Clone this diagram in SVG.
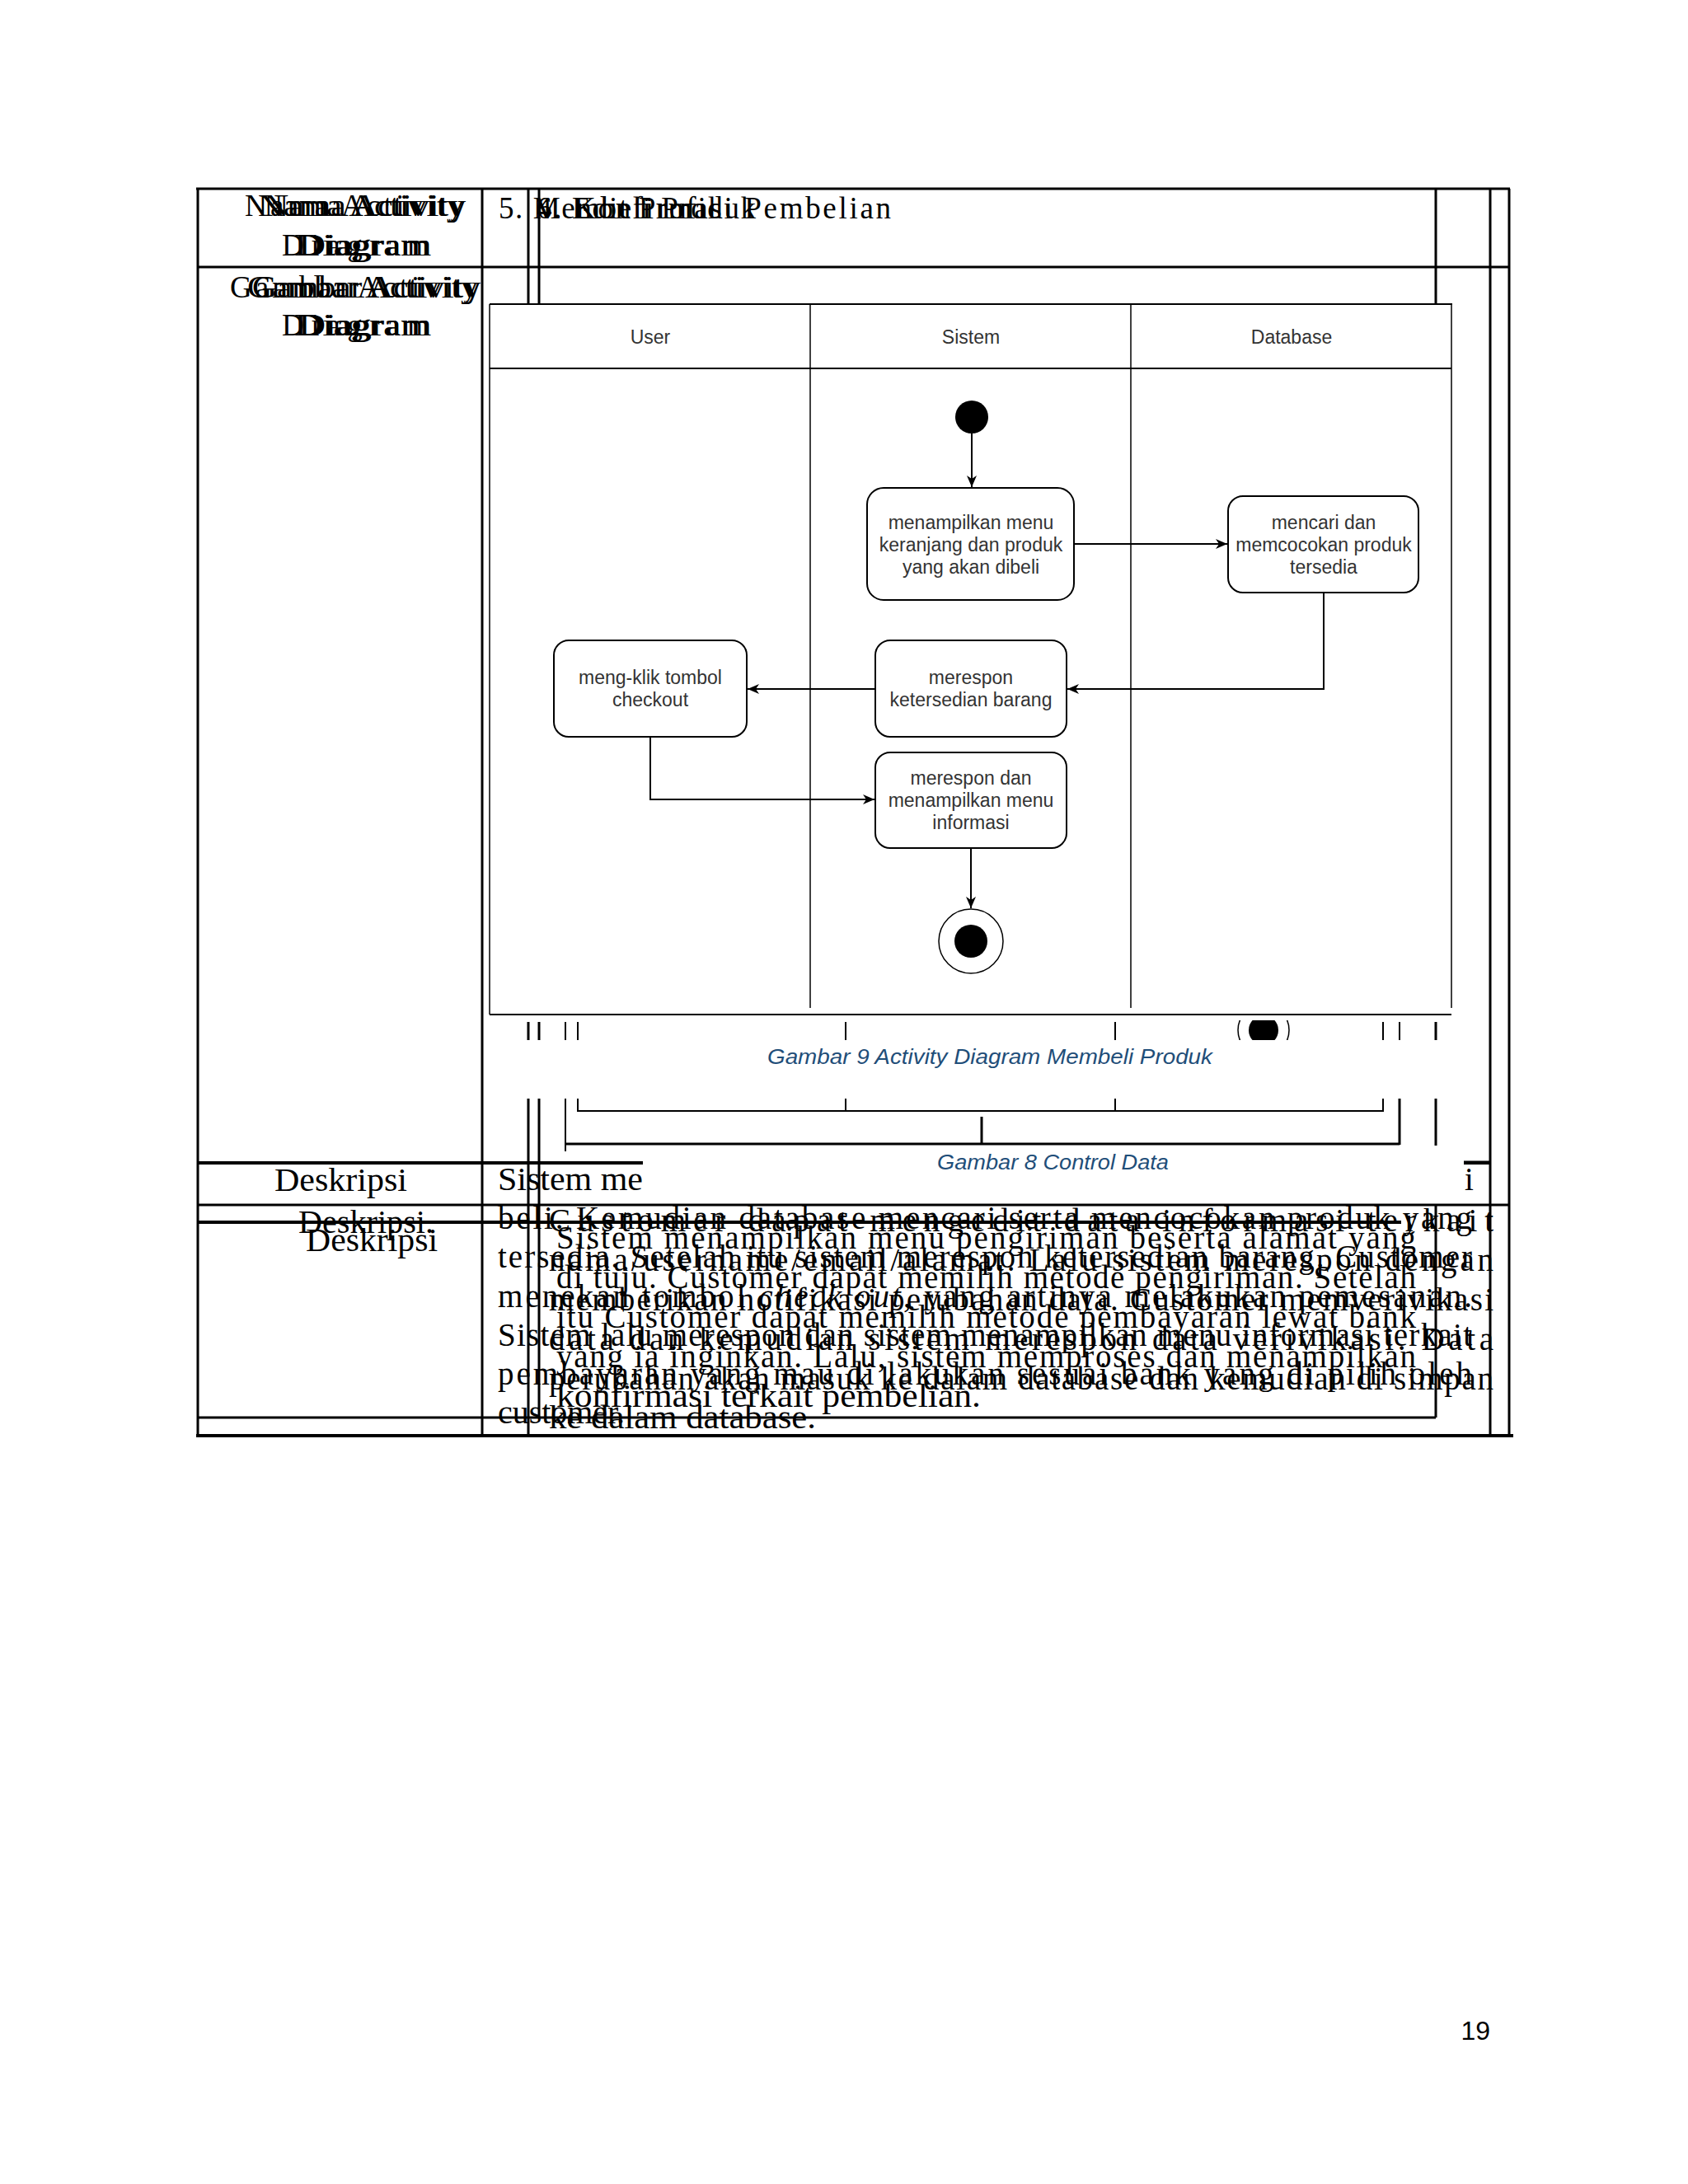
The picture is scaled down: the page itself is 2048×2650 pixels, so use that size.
<svg xmlns="http://www.w3.org/2000/svg" width="2048" height="2650" viewBox="0 0 2048 2650">
<defs>
<style>
.tl{stroke:#000;stroke-width:3;fill:none}
.tn{stroke:#000;stroke-width:2;fill:none}
.tk{stroke:#000;stroke-width:4;fill:none}
.ser{font-family:"Liberation Serif","Times New Roman",serif;fill:#000}
.lbl{font-size:37px}
.body{font-size:39px}
.cap{font-family:"Liberation Sans",Arial,sans-serif;font-style:italic;font-size:26px;fill:#1f4e79}
.dg{font-family:"Liberation Sans",Arial,sans-serif;font-size:23px;fill:#333;text-anchor:middle}
.box{fill:#fff;stroke:#000;stroke-width:2}
.lane{stroke:#000;stroke-width:1.5;fill:none}
.edge{stroke:#000;stroke-width:2;fill:none}
</style>
<marker id="arr" markerWidth="16" markerHeight="14" refX="14" refY="7" orient="auto" markerUnits="userSpaceOnUse">
<path d="M0,1 L14,7 L0,13 L4,7 z" fill="#000"/>
</marker>
<clipPath id="cl"><rect x="1490" y="1238" width="90" height="24"/></clipPath>
</defs>
<rect width="2048" height="2650" fill="#fff"/>

<g id="table">
<line class="tl" x1="238" y1="229" x2="1832" y2="229"/>
<line class="tl" x1="240" y1="229" x2="240" y2="1742"/>
<line class="tl" x1="240" y1="324" x2="1831" y2="324"/>
<line class="tl" x1="585" y1="229" x2="585" y2="1742"/>
<line class="tl" x1="641" y1="229" x2="641" y2="369"/>
<line class="tl" x1="654" y1="229" x2="654" y2="369"/>
<line class="tl" x1="1742" y1="229" x2="1742" y2="369"/>
<line class="tl" x1="1808" y1="229" x2="1808" y2="1742"/>
<line class="tl" x1="1831" y1="229" x2="1831" y2="1742"/>
<line class="tl" x1="641" y1="1240" x2="641" y2="1262"/>
<line class="tl" x1="654" y1="1240" x2="654" y2="1262"/>
<line class="tl" x1="641" y1="1333" x2="641" y2="1742"/>
<line class="tl" x1="654" y1="1333" x2="654" y2="1720"/>
<line class="tl" x1="1742" y1="1240" x2="1742" y2="1262"/>
<line class="tl" x1="1742" y1="1333" x2="1742" y2="1390"/>
<line class="tl" x1="1742" y1="1461" x2="1742" y2="1720"/>
<line class="tk" x1="240" y1="1411" x2="780" y2="1411"/>
<line class="tk" x1="1776" y1="1411" x2="1808" y2="1411"/>
<line class="tl" x1="240" y1="1462" x2="1831" y2="1462"/>
<line class="tk" x1="240" y1="1483" x2="1700" y2="1483"/>
<line class="tl" x1="240" y1="1720" x2="1742" y2="1720"/>
<line class="tk" x1="238" y1="1742" x2="1836" y2="1742"/>
</g>

<g id="residue">
<line class="tn" x1="686" y1="1240" x2="686" y2="1262"/>
<line class="tn" x1="701" y1="1240" x2="701" y2="1262"/>
<line class="tn" x1="1026" y1="1240" x2="1026" y2="1262"/>
<line class="tn" x1="1353" y1="1240" x2="1353" y2="1262"/>
<line class="tn" x1="1678" y1="1240" x2="1678" y2="1262"/>
<line class="tn" x1="1698" y1="1240" x2="1698" y2="1262"/>
<g clip-path="url(#cl)">
<circle cx="1533" cy="1250" r="31" fill="none" stroke="#000" stroke-width="1.5"/>
<circle cx="1533" cy="1250" r="18" fill="#000"/>
</g>
<line class="tn" x1="686" y1="1333" x2="686" y2="1397"/>
<line class="tn" x1="701" y1="1333" x2="701" y2="1349"/>
<line class="tn" x1="701" y1="1348" x2="1678" y2="1348"/>
<line class="tn" x1="1026" y1="1333" x2="1026" y2="1348"/>
<line class="tn" x1="1353" y1="1333" x2="1353" y2="1348"/>
<line class="tn" x1="1678" y1="1333" x2="1678" y2="1349"/>
<line class="tl" x1="1191" y1="1355" x2="1191" y2="1388"/>
<line class="tl" x1="686" y1="1388" x2="1698" y2="1388"/>
<line class="tl" x1="1698" y1="1333" x2="1698" y2="1389"/>
<line class="tl" x1="1776" y1="1410" x2="1808" y2="1410"/>
</g>

<g id="labels" class="ser lbl">
<text x="297" y="262" textLength="268" lengthAdjust="spacing">Nama Activity</text>
<text x="313" y="262" textLength="250" lengthAdjust="spacingAndGlyphs">Nama Activity</text>
<text x="320" y="262" textLength="245" lengthAdjust="spacingAndGlyphs">Nama Activity</text>
<text x="342" y="310" textLength="181" lengthAdjust="spacing">Diagram</text>
<text x="357" y="310" textLength="166" lengthAdjust="spacingAndGlyphs">Diagram</text>
<text x="362" y="310" textLength="160" lengthAdjust="spacingAndGlyphs">Diagram</text>
<text x="279" y="361" textLength="304" lengthAdjust="spacing">Gambar Activity</text>
<text x="300" y="361" textLength="280" lengthAdjust="spacingAndGlyphs">Gambar Activity</text>
<text x="306" y="361" textLength="277" lengthAdjust="spacingAndGlyphs">Gambar Activity</text>
<text x="342" y="407" textLength="181" lengthAdjust="spacing">Diagram</text>
<text x="357" y="407" textLength="166" lengthAdjust="spacingAndGlyphs">Diagram</text>
<text x="362" y="407" textLength="160" lengthAdjust="spacingAndGlyphs">Diagram</text>
<text x="605" y="265" textLength="312" lengthAdjust="spacing">5. Membeli Produk</text>
<text x="651" y="265" textLength="218" lengthAdjust="spacing">4. Edit Profil</text>
<text x="651" y="265" textLength="430" lengthAdjust="spacing">6. Konfirmasi Pembelian</text>
</g>

<g id="activity-diagram">
<g id="frame">
<line class="tn" x1="594" y1="369" x2="1762" y2="369"/>
<line class="lane" x1="594" y1="369" x2="594" y2="1231"/>
<line class="lane" x1="983" y1="369" x2="983" y2="1223"/>
<line class="lane" x1="1372" y1="369" x2="1372" y2="1223"/>
<line class="lane" x1="1761" y1="369" x2="1761" y2="1223"/>
<line class="tn" x1="594" y1="447" x2="1761" y2="447"/>
<line class="tn" x1="594" y1="1231" x2="1761" y2="1231"/>
<text class="dg" x="789" y="417">User</text>
<text class="dg" x="1178" y="417">Sistem</text>
<text class="dg" x="1567" y="417">Database</text>
</g>
<g id="start"><circle cx="1179" cy="506" r="20" fill="#000"/></g>
<g id="n1">
<rect class="box" x="1052" y="592" width="251" height="136" rx="20"/>
<text class="dg" x="1178" y="642">menampilkan menu</text>
<text class="dg" x="1178" y="669">keranjang dan produk</text>
<text class="dg" x="1178" y="696">yang akan dibeli</text>
</g>
<g id="n2">
<rect class="box" x="1490" y="602" width="231" height="117" rx="18"/>
<text class="dg" x="1606" y="642">mencari dan</text>
<text class="dg" x="1606" y="669">memcocokan produk</text>
<text class="dg" x="1606" y="696">tersedia</text>
</g>
<g id="n3">
<rect class="box" x="672" y="777" width="234" height="117" rx="18"/>
<text class="dg" x="789" y="830">meng-klik tombol</text>
<text class="dg" x="789" y="857">checkout</text>
</g>
<g id="n4">
<rect class="box" x="1062" y="777" width="232" height="117" rx="18"/>
<text class="dg" x="1178" y="830">merespon</text>
<text class="dg" x="1178" y="857">ketersedian barang</text>
</g>
<g id="n5">
<rect class="box" x="1062" y="913" width="232" height="116" rx="18"/>
<text class="dg" x="1178" y="952">merespon dan</text>
<text class="dg" x="1178" y="979">menampilkan menu</text>
<text class="dg" x="1178" y="1006">informasi</text>
</g>
<g id="end">
<circle cx="1178" cy="1142" r="39" fill="#fff" stroke="#000" stroke-width="1.5"/>
<circle cx="1178" cy="1142" r="20" fill="#000"/>
</g>
<g id="connectors">
<path class="edge" d="M1179,526 L1179,591" marker-end="url(#arr)"/>
<path class="edge" d="M1303,660 L1489,660" marker-end="url(#arr)"/>
<path class="edge" d="M1606,719 L1606,836 L1295,836" marker-end="url(#arr)"/>
<path class="edge" d="M1062,836 L907,836" marker-end="url(#arr)"/>
<path class="edge" d="M789,894 L789,970 L1061,970" marker-end="url(#arr)"/>
<path class="edge" d="M1178,1029 L1178,1102" marker-end="url(#arr)"/>
</g>
</g>

<g id="captions">
<text class="cap" x="931" y="1291" textLength="540" lengthAdjust="spacingAndGlyphs">Gambar 9 Activity Diagram Membeli Produk</text>
<text class="cap" x="1137" y="1419" textLength="281" lengthAdjust="spacingAndGlyphs">Gambar 8 Control Data</text>
</g>

<g id="deskripsi" class="ser body">
<text x="333" y="1445" textLength="161" lengthAdjust="spacingAndGlyphs">Deskripsi</text>
<text x="362" y="1496" textLength="164" lengthAdjust="spacingAndGlyphs">Deskripsi.</text>
<text x="371" y="1518" textLength="160" lengthAdjust="spacingAndGlyphs">Deskripsi</text>
</g>

<g id="text-a" class="ser body">
<text x="604" y="1444" textLength="176" lengthAdjust="spacingAndGlyphs">Sistem me</text>
<text x="1777" y="1444">i</text>
<text x="604" y="1491" textLength="1182" lengthAdjust="spacing">beli. Kemudian database mencari serta mencocokan produk yang</text>
<text x="604" y="1538" textLength="1182" lengthAdjust="spacing">tersedia. Setelah itu sistem merespon ketersedian barang. Customer</text>
<text x="604" y="1586" textLength="1182" lengthAdjust="spacing">menekan tombol <tspan font-style="italic">check out</tspan>, yang artinya melakukan pemesanan.</text>
<text x="604" y="1633" textLength="1182" lengthAdjust="spacing">Sistem lalu merespon dan sistem menampilkan menu informasi terkait</text>
<text x="604" y="1680" textLength="1182" lengthAdjust="spacing">pembayaran yang mau di lakukan sesuai bank yang di pilih oleh</text>
<text x="604" y="1727" textLength="154" lengthAdjust="spacingAndGlyphs">customer.</text>
</g>

<g id="text-b" class="ser body">
<text x="666" y="1494" textLength="1146" lengthAdjust="spacing">Customer dapat mengedit data informasi terkait</text>
<text x="666" y="1542" textLength="1146" lengthAdjust="spacing">nama/username/email/alamat. Lalu sistem merespon dengan</text>
<text x="666" y="1590" textLength="1146" lengthAdjust="spacing">memberikan notifikasi perubahan data. Customer memverivikasi</text>
<text x="666" y="1638" textLength="1146" lengthAdjust="spacing">data dan kemudian sistem merespon data verivikasi. Data</text>
<text x="666" y="1686" textLength="1146" lengthAdjust="spacing">perubahan akan masuk ke dalam database dan kemudian di simpan</text>
<text x="666" y="1733" textLength="324" lengthAdjust="spacingAndGlyphs">ke dalam database.</text>
</g>

<g id="text-c" class="ser body">
<text x="675" y="1515" textLength="1043" lengthAdjust="spacing">Sistem menampilkan menu pengiriman beserta alamat yang</text>
<text x="675" y="1563" textLength="1043" lengthAdjust="spacing">di tuju. Customer dapat memilih metode pengiriman. Setelah</text>
<text x="675" y="1611" textLength="1043" lengthAdjust="spacing">itu Customer dapat memilih metode pembayaran lewat bank</text>
<text x="675" y="1659" textLength="1043" lengthAdjust="spacing">yang ia inginkan. Lalu, sistem memproses dan menampilkan</text>
<text x="675" y="1707" textLength="515" lengthAdjust="spacingAndGlyphs">konfirmasi terkait pembelian.</text>
</g>

<g id="page-number">
<text x="1808" y="2475" text-anchor="end" font-family="Liberation Sans, Arial, sans-serif" font-size="32" fill="#000">19</text>
</g>
</svg>
